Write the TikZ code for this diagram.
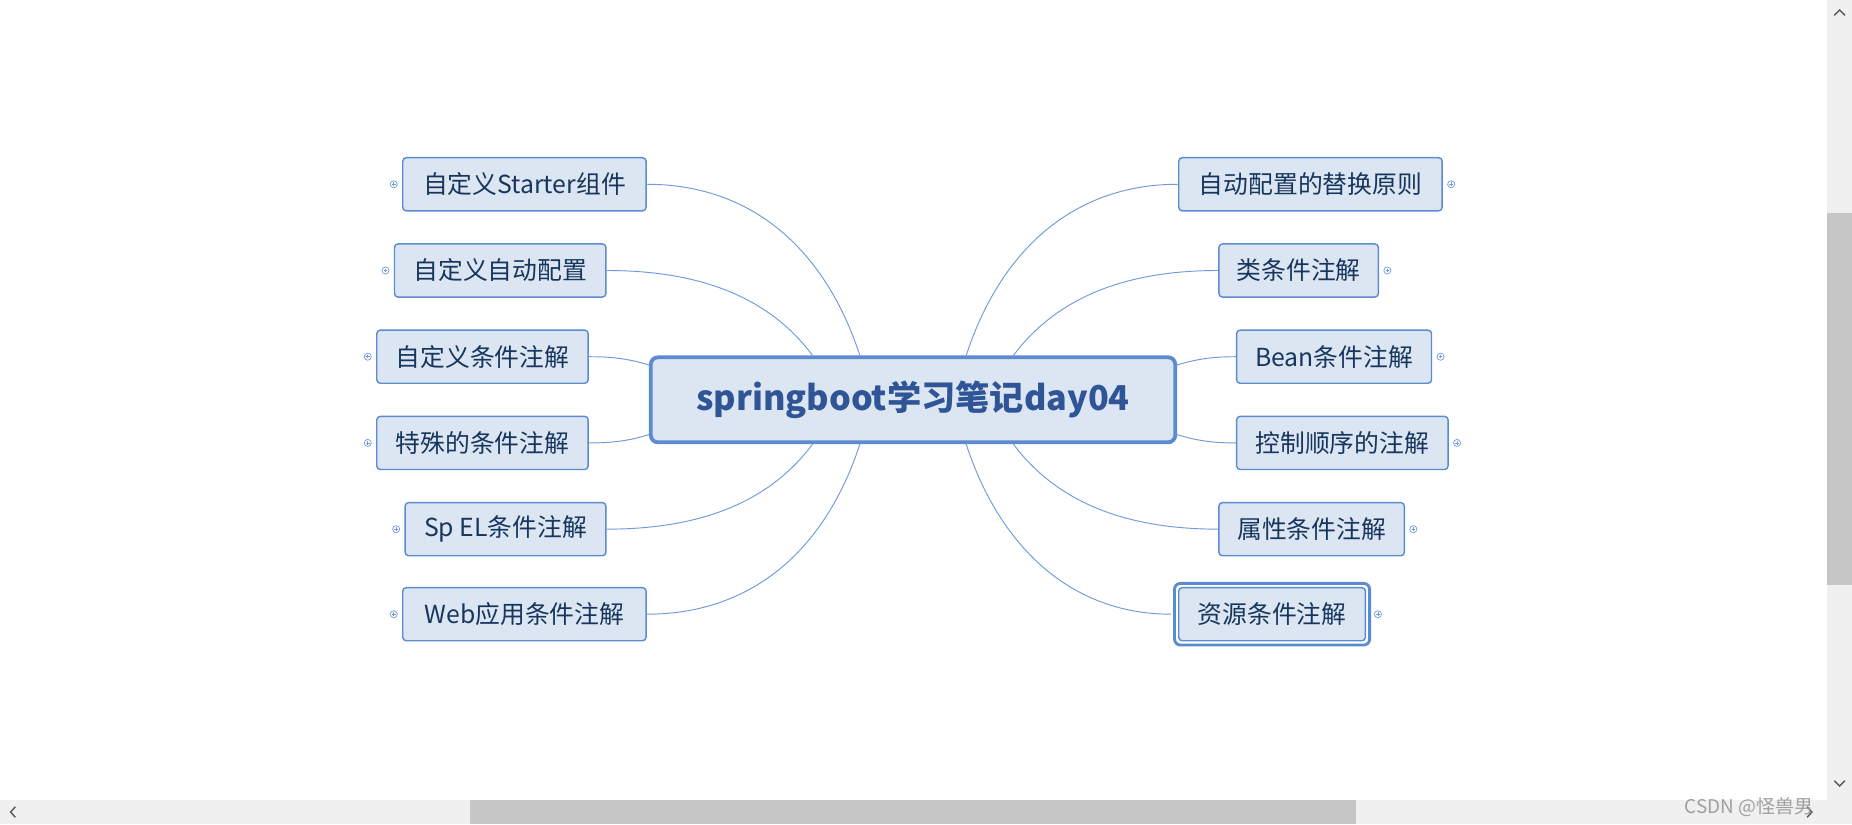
\documentclass[tikz,border=0pt]{standalone}
\usepackage{fontspec}
\setmainfont{Noto Sans CJK SC}
\begin{document}
\begin{tikzpicture}[x=0.5pt,y=-0.5pt,
  topic/.style={draw=bbord,fill=bfill,rounded corners=1.5pt,line width=0.6pt,minimum height=22.5pt,inner sep=0pt,font=\fontsize{10.5}{12}\selectfont,text=btext},
  main/.style={draw=bbord,fill=bfill,rounded corners=3pt,line width=1.6pt,minimum height=36pt,minimum width=222pt,inner sep=0pt,font=\fontsize{14.5}{16}\selectfont\bfseries,text=mtext},
  link/.style={draw=lcol,line width=0.4pt},
  plus/.style={circle,draw=lcol,fill=white,line width=0.3pt,minimum size=3pt,inner sep=0pt}]
\definecolor{bbord}{HTML}{5B8BD0}
\definecolor{bfill}{HTML}{DCE6F2}
\definecolor{btext}{HTML}{17365D}
\definecolor{mtext}{HTML}{2F5597}
\definecolor{lcol}{HTML}{6F9BDD}
\useasboundingbox (0,0) rectangle (1568,698);
\fill[white] (0,0) rectangle (1568,698);
% scrollbars
\fill[gray!12] (1547,0) rectangle (1568,677);
\fill[gray!45] (1547,180) rectangle (1568,495);
\fill[gray!12] (0,677) rectangle (1568,698);
\fill[gray!45] (398,677) rectangle (1148,698);
\draw[gray!70!black,line width=0.6pt] (1553,13)--(1557.5,8.5)--(1562,13);
\draw[gray!70!black,line width=0.6pt] (1553,661)--(1557.5,665.5)--(1562,661);
\draw[gray!70!black,line width=0.6pt] (13,683)--(9,687.5)--(13,692);
\draw[gray!70!black,line width=0.6pt] (1530,683)--(1534,687.5)--(1530,692);
\node[text=gray!75,font=\fontsize{8}{9}\selectfont,anchor=east] (wm) at (1542,683) {CSDN @怪兽男};
% center
\node[main] (c) at (773,338.5) {springboot学习笔记day04};
% left
\node[topic,minimum width=103pt] (l1) at (444,156) {自定义Starter组件};
\node[topic,minimum width=89.5pt] (l2) at (423.5,229) {自定义自动配置};
\node[topic,minimum width=89.5pt] (l3) at (408.5,302) {自定义条件注解};
\node[topic,minimum width=89.5pt] (l4) at (408.5,375) {特殊的条件注解};
\node[topic,minimum width=85pt] (l5) at (428,448) {Sp EL条件注解};
\node[topic,minimum width=103pt] (l6) at (444,520) {Web应用条件注解};
% right
\node[topic,minimum width=111.5pt] (r1) at (1109.5,156) {自动配置的替换原则};
\node[topic,minimum width=67.5pt] (r2) at (1099.5,229) {类条件注解};
\node[topic,minimum width=82.5pt] (r3) at (1129.5,302) {Bean条件注解};
\node[topic,minimum width=89.5pt] (r4) at (1136.5,375) {控制顺序的注解};
\node[topic,minimum width=78.5pt] (r5) at (1110.5,448) {属性条件注解};
\node[topic,minimum width=79pt] (r6) at (1077,520) {资源条件注解};
\draw[bbord,line width=1.2pt,rounded corners=2.5pt] ([shift={(-3,-3)}]r6.north west) rectangle ([shift={(3,3)}]r6.south east);
% plus markers
\foreach \n in {l1,l2,l3,l4,l5,l6}{\node[plus] at ([xshift=-3.5pt]\n.west) {}; \draw[lcol,line width=0.3pt] ([xshift=-4.25pt]\n.west)--([xshift=-2.75pt]\n.west) ([xshift=-3.5pt,yshift=-0.75pt]\n.west)--([xshift=-3.5pt,yshift=0.75pt]\n.west);}
\foreach \n/\d in {r1/3.5,r2/3.5,r3/3.5,r4/3.5,r5/3.5,r6/5}{\node[plus] at ([xshift=\d pt]\n.east) {}; \draw[lcol,line width=0.3pt] ([xshift=\d pt-0.75pt]\n.east)--([xshift=\d pt+0.75pt]\n.east) ([xshift=\d pt,yshift=-0.75pt]\n.east)--([xshift=\d pt,yshift=0.75pt]\n.east);}
% connectors
\draw[link] (728,301) .. controls (700,215) and (640,156) .. (l1.east);
\draw[link] (688,301) .. controls (650,250) and (590,229) .. (l2.east);
\draw[link] (c.west |- 0,309) .. controls (530,303) and (515,302) .. (l3.east);
\draw[link] (c.west |- 0,368) .. controls (530,374) and (515,375) .. (l4.east);
\draw[link] (688,376) .. controls (650,427) and (590,448) .. (l5.east);
\draw[link] (728,376) .. controls (700,462) and (640,520) .. (l6.east);
\draw[link] (818,301) .. controls (846,215) and (906,156) .. (r1.west);
\draw[link] (858,301) .. controls (896,250) and (956,229) .. (r2.west);
\draw[link] (c.east |- 0,309) .. controls (1016,303) and (1031,302) .. (r3.west);
\draw[link] (c.east |- 0,368) .. controls (1016,374) and (1031,375) .. (r4.west);
\draw[link] (858,376) .. controls (896,427) and (956,448) .. (r5.west);
\draw[link] (818,376) .. controls (846,462) and (906,520) .. ([xshift=-3]r6.west);
\end{tikzpicture}
\end{document}
